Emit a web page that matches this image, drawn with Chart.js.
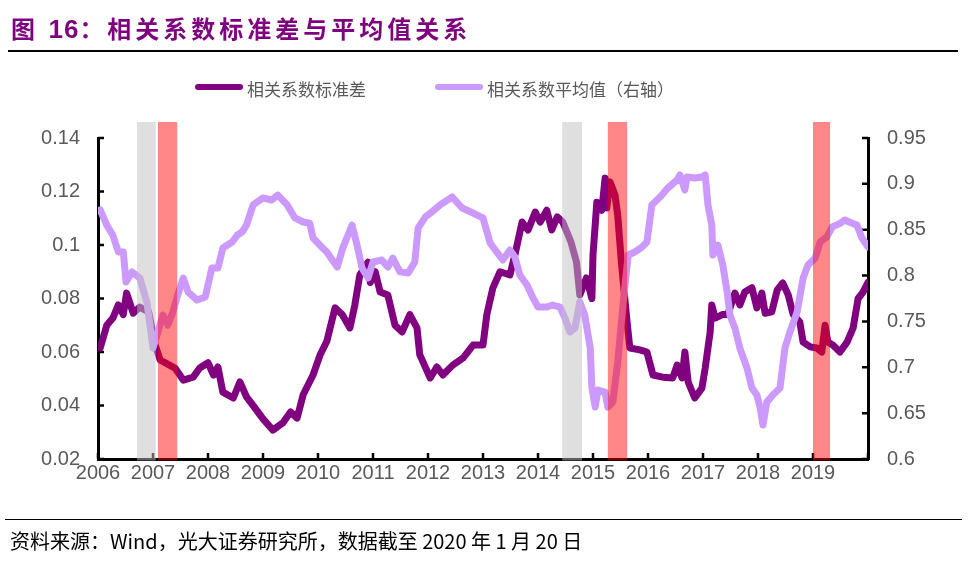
<!DOCTYPE html>
<html>
<head>
<meta charset="utf-8">
<script src="https://cdn.jsdelivr.net/npm/chart.js@4/dist/chart.umd.min.js"></script>
<style>
  body { margin: 0; background: #fff; }
  #wrap { position: relative; width: 971px; height: 563px; overflow: hidden; }
  #chart { position: absolute; left: 0; top: 0; }
  #title {
    position: absolute; left: 11px; top: 10px; line-height: 30px;
    font: bold 24px "Noto Sans CJK SC", sans-serif; letter-spacing: 4px; color: #7f007f;
  }
  #title .num { font-family: "Liberation Sans", Arial, sans-serif; font-size: 26px; letter-spacing: 1px; }
  .rule { position: absolute; background: #000; }
  .leg-line { position: absolute; height: 6px; border-radius: 3px; top: 84px; width: 48px; }
  .leg-text {
    position: absolute; top: 76px; line-height: 22px;
    font: 17px "Noto Sans CJK SC", sans-serif; color: #595959;
  }
  #source {
    position: absolute; left: 10px; top: 526px; line-height: 24px;
    font: 20px "Noto Sans CJK SC", sans-serif; color: #000;
  }
</style>
</head>
<body>
<div id="wrap">
  <canvas id="chart" width="971" height="563"></canvas>
  <div id="title">图 <span class="num">16</span>：相关系数标准差与平均值关系</div>
  <div class="rule" style="left:8px;top:50px;width:950px;height:2px"></div>
  <div class="leg-line" style="left:195px;background:#800080"></div>
  <div class="leg-text" style="left:247px">相关系数标准差</div>
  <div class="leg-line" style="left:435px;background:#cc99ff"></div>
  <div class="leg-text" style="left:487px">相关系数平均值（右轴）</div>
  <div class="rule" style="left:5px;top:519px;width:957px;height:1px"></div>
  <div id="source">资料来源：Wind，光大证券研究所，数据截至 2020 年 1 月 20 日</div>
</div>
<script>
/* -------------------------------------------------------
   Data (years as decimals)
------------------------------------------------------- */
const stdYears = [
  2006.04, 2006.16, 2006.27, 2006.37, 2006.46, 2006.52, 2006.64, 2006.76, 2006.92, 2007.04,
  2007.13, 2007.4, 2007.55, 2007.73, 2007.85, 2008.0, 2008.1, 2008.18, 2008.27, 2008.46,
  2008.58, 2008.7, 2008.82, 2009.0, 2009.18, 2009.36, 2009.5, 2009.62, 2009.73, 2009.91,
  2010.04, 2010.16, 2010.31, 2010.44, 2010.58, 2010.67, 2010.76, 2010.91, 2010.95, 2011.04,
  2011.13, 2011.27, 2011.4, 2011.53, 2011.67, 2011.8, 2011.85, 2012.04, 2012.16, 2012.27,
  2012.45, 2012.64, 2012.82, 2013.0, 2013.07, 2013.18, 2013.31, 2013.49, 2013.58, 2013.71,
  2013.82, 2013.95, 2014.04, 2014.16, 2014.25, 2014.35, 2014.45, 2014.6, 2014.7, 2014.76,
  2014.88, 2014.98, 2015.0, 2015.07, 2015.16, 2015.22, 2015.25, 2015.31, 2015.4, 2015.45,
  2015.52, 2015.62, 2015.67, 2015.85, 2015.98, 2016.09, 2016.27, 2016.45, 2016.53, 2016.62,
  2016.67, 2016.73, 2016.85, 2016.98, 2017.04, 2017.13, 2017.16, 2017.22, 2017.35, 2017.45,
  2017.58, 2017.67, 2017.76, 2017.89, 2017.98, 2018.07, 2018.13, 2018.25, 2018.35, 2018.45,
  2018.55, 2018.64, 2018.76, 2018.82, 2018.95, 2019.07, 2019.16, 2019.22, 2019.27, 2019.36,
  2019.49, 2019.62, 2019.73, 2019.82, 2019.91, 2020.0
];
const stdValues = [
  0.0615, 0.070, 0.0727, 0.0776, 0.074, 0.082, 0.0745, 0.0768, 0.075, 0.0626,
  0.057, 0.054, 0.0495, 0.0506, 0.054, 0.056, 0.0514, 0.0544, 0.045, 0.0428,
  0.0488, 0.0432, 0.040, 0.035, 0.0308, 0.0335, 0.0376, 0.0353, 0.044, 0.0514,
  0.059, 0.064, 0.0765, 0.074, 0.069, 0.0776, 0.0888, 0.0936, 0.086, 0.090,
  0.0824, 0.0813, 0.070, 0.0675, 0.074, 0.069, 0.059, 0.0503, 0.0544, 0.0514,
  0.0551, 0.0578, 0.0626, 0.0626, 0.074, 0.084, 0.090, 0.0888, 0.0963, 0.1086,
  0.1056, 0.1123, 0.1086, 0.113, 0.1056, 0.1105, 0.1086, 0.1011, 0.0936, 0.0813,
  0.0877, 0.080, 0.0963, 0.116, 0.113, 0.125, 0.1138, 0.1236, 0.1187, 0.111,
  0.0925, 0.0712, 0.0615, 0.0608, 0.060, 0.0514, 0.0506, 0.0503, 0.0551, 0.0503,
  0.060, 0.0488, 0.0428, 0.0465, 0.054, 0.0675, 0.0776, 0.0727, 0.074, 0.074,
  0.082, 0.0776, 0.0824, 0.084, 0.0765, 0.082, 0.0745, 0.075, 0.0832, 0.0858,
  0.0813, 0.074, 0.0712, 0.0637, 0.0619, 0.0615, 0.060, 0.070, 0.0637, 0.0626,
  0.060, 0.0637, 0.069, 0.080, 0.0824, 0.086
];

const meanYears = [
  2006.04, 2006.16, 2006.27, 2006.37, 2006.46, 2006.51, 2006.62, 2006.76, 2006.89, 2007.0,
  2007.09, 2007.18, 2007.27, 2007.36, 2007.45, 2007.55, 2007.64, 2007.8, 2007.95, 2008.07,
  2008.18, 2008.27, 2008.44, 2008.53, 2008.62, 2008.7, 2008.82, 2009.0, 2009.16, 2009.27,
  2009.44, 2009.58, 2009.73, 2009.85, 2009.91, 2010.07, 2010.16, 2010.35, 2010.45, 2010.62,
  2010.71, 2010.8, 2010.91, 2011.0, 2011.16, 2011.27, 2011.36, 2011.49, 2011.64, 2011.76,
  2011.82, 2011.95, 2012.07, 2012.22, 2012.44, 2012.62, 2012.82, 2013.0, 2013.13, 2013.25,
  2013.36, 2013.49, 2013.58, 2013.67, 2013.8, 2013.91, 2014.0, 2014.16, 2014.27, 2014.4,
  2014.49, 2014.58, 2014.67, 2014.76, 2014.85, 2014.95, 2014.98, 2015.04, 2015.09, 2015.22,
  2015.27, 2015.36, 2015.45, 2015.55, 2015.64, 2015.76, 2015.89, 2015.98, 2016.07, 2016.22,
  2016.36, 2016.53, 2016.58, 2016.67, 2016.71, 2016.85, 2016.98, 2017.04, 2017.09, 2017.16,
  2017.18, 2017.27, 2017.36, 2017.44, 2017.49, 2017.58, 2017.67, 2017.8, 2017.89, 2017.98,
  2018.04, 2018.09, 2018.16, 2018.27, 2018.4, 2018.49, 2018.58, 2018.71, 2018.82, 2018.91,
  2019.04, 2019.13, 2019.25, 2019.35, 2019.49, 2019.58, 2019.71, 2019.8, 2019.89, 2020.0
];
const meanValues = [
  0.8715, 0.855, 0.844, 0.8257, 0.8257, 0.793, 0.804, 0.7973, 0.771, 0.721,
  0.7385, 0.757, 0.746, 0.760, 0.779, 0.7973, 0.782, 0.7733, 0.7766, 0.8082,
  0.8082, 0.83, 0.8366, 0.844, 0.8475, 0.855, 0.877, 0.8846, 0.8824, 0.8878,
  0.877, 0.8628, 0.8584, 0.857, 0.841, 0.831, 0.8257, 0.8093, 0.83, 0.855,
  0.8333, 0.8082, 0.7973, 0.8148, 0.817, 0.8093, 0.819, 0.804, 0.8028, 0.8148,
  0.8518, 0.8638, 0.8693, 0.877, 0.8857, 0.8737, 0.8682, 0.8628, 0.8355, 0.8257,
  0.817, 0.8279, 0.8202, 0.8006, 0.7897, 0.7755, 0.7657, 0.7657, 0.7679, 0.7657,
  0.7537, 0.7385, 0.7428, 0.7712, 0.757, 0.721, 0.6774, 0.6567, 0.6752, 0.673,
  0.6567, 0.6621, 0.7057, 0.7712, 0.8224, 0.8257, 0.831, 0.8366, 0.877, 0.8857,
  0.8955, 0.9042, 0.9097, 0.8933, 0.9075, 0.9064, 0.9075, 0.9097, 0.877, 0.855,
  0.8224, 0.8333, 0.8115, 0.782, 0.757, 0.7428, 0.721, 0.699, 0.6774, 0.6697,
  0.6556, 0.637, 0.662, 0.6697, 0.6774, 0.721, 0.7385, 0.760, 0.7973, 0.8115,
  0.819, 0.8366, 0.842, 0.853, 0.857, 0.8606, 0.857, 0.855, 0.841, 0.831
];

// shaded periods
const bandStarts = [2006.71, 2007.09, 2014.44, 2015.27, 2019.0];
const bandEnds   = [2007.05, 2007.44, 2014.80, 2015.62, 2019.31];
const bandKinds  = ["gray", "red", "gray", "red", "red"];

const bandFill = { gray: "rgba(192,192,192,0.5)", red: "rgba(255,0,0,0.47)" };

const toPoints = (xs, ys) => xs.map((x, i) => ({ x, y: ys[i] }));
const fmt = v => String(+v.toFixed(2));

/* -------------------------------------------------------
   Plugins: inward tick marks + shaded bands on top
------------------------------------------------------- */
const inwardTicks = {
    id: "inwardTicks",
    beforeDatasetsDraw(chart) {
        const { ctx, chartArea: a, scales } = chart;
        ctx.save();
        ctx.strokeStyle = "#000";
        ctx.lineWidth = 2.5;
        ctx.beginPath();
        scales.x.ticks.forEach(t => {
            const px = scales.x.getPixelForValue(t.value);
            ctx.moveTo(px, a.bottom);
            ctx.lineTo(px, a.bottom - 6);
        });
        scales.y.ticks.forEach(t => {
            const py = scales.y.getPixelForValue(t.value);
            ctx.moveTo(a.left, py);
            ctx.lineTo(a.left + 6, py);
        });
        scales.y1.ticks.forEach(t => {
            const py = scales.y1.getPixelForValue(t.value);
            ctx.moveTo(a.right, py);
            ctx.lineTo(a.right - 6, py);
        });
        ctx.stroke();
        ctx.restore();
    }
};

const bands = {
    id: "bands",
    afterDatasetsDraw(chart) {
        const { ctx, chartArea: a, scales } = chart;
        ctx.save();
        for (let i = 0; i < bandStarts.length; i++) {
            const x0 = scales.x.getPixelForValue(bandStarts[i]);
            const x1 = scales.x.getPixelForValue(bandEnds[i]);
            ctx.fillStyle = bandFill[bandKinds[i]];
            ctx.fillRect(x0, a.top - 16, x1 - x0, a.bottom - a.top + 17.5);
        }
        ctx.restore();
    }
};

/* -------------------------------------------------------
   Chart
------------------------------------------------------- */
const tickFont = { family: '"Liberation Sans", Arial, sans-serif', size: 20 };
const axisBorder = { display: true, color: "#000", width: 3 };
const noGrid = { display: false, drawTicks: false };

new Chart(document.getElementById("chart"), {
    type: "line",
    data: {
        datasets: [
            {
                label: "相关系数标准差",
                data: toPoints(stdYears, stdValues),
                yAxisID: "y",
                borderColor: "#800080",
                borderWidth: 7,
                pointRadius: 0,
                tension: 0,
                borderJoinStyle: "round",
                borderCapStyle: "round",
                order: 2
            },
            {
                label: "相关系数平均值（右轴）",
                data: toPoints(meanYears, meanValues),
                yAxisID: "y1",
                borderColor: "#cc99ff",
                borderWidth: 7,
                pointRadius: 0,
                tension: 0,
                borderJoinStyle: "round",
                borderCapStyle: "round",
                order: 1
            }
        ]
    },
    options: {
        responsive: false,
        animation: false,
        layout: { padding: { top: 138, left: 0, right: 0, bottom: 0 } },
        plugins: { legend: { display: false }, tooltip: { enabled: false } },
        scales: {
            x: {
                type: "linear",
                min: 2006,
                max: 2020,
                afterFit: s => { s.height = 104; },
                grid: noGrid,
                border: axisBorder,
                ticks: {
                    stepSize: 1,
                    autoSkip: false,
                    maxRotation: 0,
                    padding: 2,
                    color: "#595959",
                    font: tickFont,
                    callback: v => (v < 2020 ? String(v) : "")
                }
            },
            y: {
                position: "left",
                min: 0.02,
                max: 0.14,
                afterFit: s => { s.width = 98; },
                grid: noGrid,
                border: axisBorder,
                ticks: { stepSize: 0.02, padding: 18, color: "#595959", font: tickFont, callback: fmt }
            },
            y1: {
                position: "right",
                min: 0.6,
                max: 0.95,
                afterFit: s => { s.width = 103; },
                grid: noGrid,
                border: axisBorder,
                ticks: { stepSize: 0.05, padding: 19, color: "#595959", font: tickFont, callback: fmt }
            }
        }
    },
    plugins: [inwardTicks, bands]
});
</script>
</body>
</html>
